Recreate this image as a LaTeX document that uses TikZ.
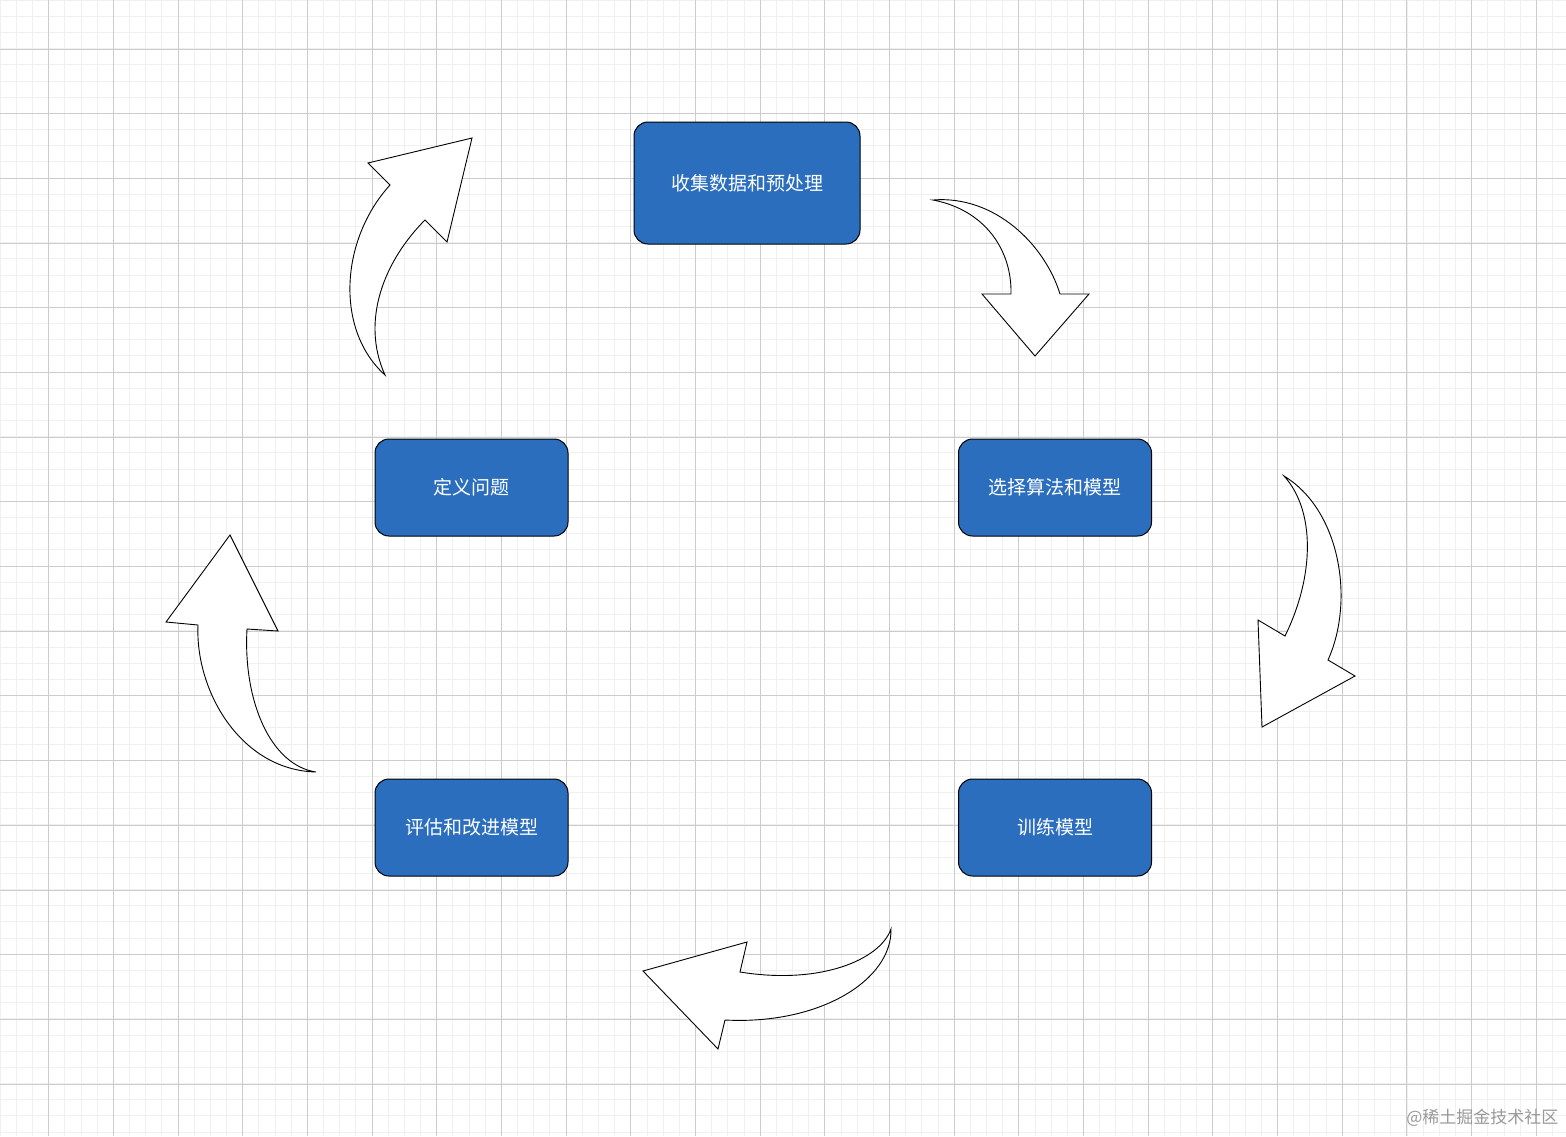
\documentclass[tikz,border=0pt]{standalone}
\usepackage{fontspec}
\newfontfamily\cjk{Noto Sans CJK SC}
\definecolor{boxblue}{HTML}{2B6EBE}
\begin{document}
\begin{tikzpicture}[x=1pt,y=-1pt,
  stepbox/.style={draw=black,fill=boxblue,rounded corners=14pt,line width=1pt,text=white,font=\cjk\fontsize{19}{22}\selectfont},
  blockarrow/.style={draw=black,fill=white,line width=0.9pt,line join=miter}]
\fill[white] (0,0) rectangle (1566,1136);
\useasboundingbox (0,0) rectangle (1566,1136);
\foreach \i in {0,...,97} {\draw[black!6,line width=0.6pt] (\i*16.17,0) -- (\i*16.17,1136);}
\foreach \i in {0,...,71} {\draw[black!6,line width=0.6pt] (0,\i*16.17) -- (1566,\i*16.17);}
\foreach \i in {0,...,24} {\draw[black!20,line width=0.7pt] (48.5+\i*64.68,0) -- (48.5+\i*64.68,1136);}
\foreach \i in {0,...,17} {\draw[black!20,line width=0.7pt] (0,49+\i*64.68) -- (1566,49+\i*64.68);}
\node[stepbox,minimum width=226pt,minimum height=122pt] (collect) at (747,183) {收集数据和预处理};
\node[stepbox,minimum width=193pt,minimum height=97pt] (define) at (471.5,487.5) {定义问题};
\node[stepbox,minimum width=193pt,minimum height=97pt] (select) at (1055,487.5) {选择算法和模型};
\node[stepbox,minimum width=193pt,minimum height=97pt] (train) at (1055,827.5) {训练模型};
\node[stepbox,minimum width=193pt,minimum height=97pt] (eval) at (471.5,827.5) {评估和改进模型};
\draw[blockarrow] (385,375) .. controls (335,330) and (340,240) .. (390,185) -- (368,163) -- (472,138) -- (447,242) -- (425,220) .. controls (385,260) and (360,320) .. (385,375) -- cycle;
\draw[blockarrow] (933,200) .. controls (995,195) and (1045,245) .. (1060,294) -- (1089,294) -- (1035,356) -- (982,294) -- (1011,294) .. controls (1012,250) and (985,210) .. (933,200) -- cycle;
\draw[blockarrow] (1284,476) .. controls (1340,510) and (1355,600) .. (1328,660) -- (1355,676) -- (1262,727) -- (1258,620) -- (1285,636) .. controls (1315,575) and (1315,510) .. (1284,476) -- cycle;
\draw[blockarrow] (891,929) .. controls (892,980) and (820,1025) .. (725,1020) -- (718,1049) -- (643,971) -- (747,942) -- (740,972) .. controls (820,985) and (880,960) .. (891,929) -- cycle;
\draw[blockarrow] (316,772) .. controls (240,770) and (195,690) .. (198,625) -- (166,622) -- (230,535) -- (278,631) -- (247,629) .. controls (243,700) and (270,765) .. (316,772) -- cycle;
\node[text=black!40,font=\cjk\fontsize{17}{20}\selectfont,anchor=east] (wm) at (1562,1118) {@稀土掘金技术社区};
\end{tikzpicture}
\end{document}
